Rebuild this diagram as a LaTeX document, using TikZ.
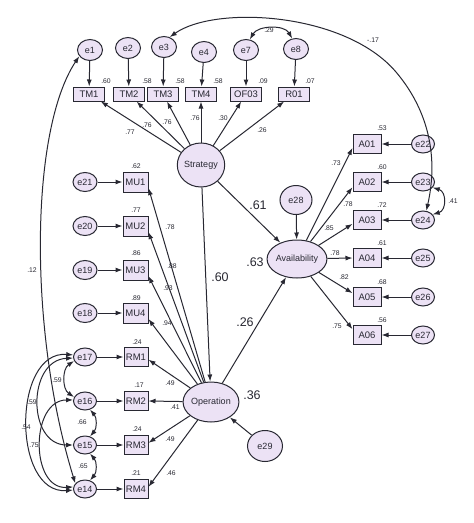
\documentclass[tikz,border=0pt]{standalone}
\usepackage{fontspec}
\setmainfont{Liberation Sans}
\usetikzlibrary{shapes.geometric,arrows.meta}
\definecolor{lav}{RGB}{236,226,245}
\definecolor{ln}{RGB}{40,40,50}
\begin{document}
\begin{tikzpicture}[x=1pt,y=-1pt,
  lat/.style={ellipse, draw=ln, fill=lav, line width=1pt, inner sep=0pt, text=ln, font=\fontsize{9}{10}\selectfont},
  err/.style={lat, minimum width=24pt, minimum height=20pt},
  obs/.style={rectangle, draw=ln, fill=lav, line width=1pt, inner sep=0pt, text=ln, font=\fontsize{9.5}{10}\selectfont},
  tmbox/.style={obs, minimum width=31pt, minimum height=14pt},
  mubox/.style={obs, minimum width=25pt, minimum height=20pt},
  abox/.style={obs, minimum width=28pt, minimum height=19pt},
  ld/.style={font=\fontsize{6.8}{7}\selectfont, inner sep=0pt, text=ln},
  big/.style={font=\fontsize{12.5}{14}\selectfont, inner sep=0pt, text=ln},
  arr/.style={draw=ln, line width=1pt, -{Latex[length=7pt,width=5pt]}},
  cov/.style={draw=ln, line width=1pt, {Latex[length=7pt,width=5pt]}-{Latex[length=7pt,width=5pt]}}
]
\useasboundingbox (0,0) rectangle (474,523);
\fill[white] (0,0) rectangle (474,523);

% top errors and indicators
\node[err, minimum width=25pt, minimum height=21pt] (e1) at (90,50) {e1};
\node[err, minimum width=25pt, minimum height=21pt] (e2) at (128,48) {e2};
\node[err, minimum width=25pt, minimum height=21pt] (e3) at (164,47) {e3};
\node[err, minimum width=25pt, minimum height=21pt] (e4) at (204,52) {e4};
\node[err, minimum width=25pt, minimum height=21pt] (e7) at (246,50) {e7};
\node[err, minimum width=25pt, minimum height=21pt] (e8) at (296,49) {e8};
\node[tmbox] (TM1) at (89,94) {TM1};
\node[tmbox] (TM2) at (129,94) {TM2};
\node[tmbox] (TM3) at (163,94) {TM3};
\node[tmbox] (TM4) at (201,94) {TM4};
\node[tmbox] (OF03) at (246,94) {OF03};
\node[tmbox] (R01) at (294,94) {R01};
\foreach \a/\b in {e1/TM1,e2/TM2,e3/TM3,e4/TM4,e7/OF03,e8/R01} \draw[arr] (\a) -- (\b);
\node[ld] at (106,81) {.60};
\node[ld] at (147,81) {.58};
\node[ld] at (180,81) {.58};
\node[ld] at (218,81) {.58};
\node[ld] at (263,81) {.09};
\node[ld] at (310,81) {.07};

% latent variables
\node[lat, minimum width=41pt, minimum height=44pt] (S) at (201,165) {Strategy};
\node[lat, minimum width=51pt, minimum height=40pt] (O) at (211,402) {Operation};
\node[lat, minimum width=56pt, minimum height=38pt] (Av) at (297,259) {Availability};
\node[lat, minimum width=32pt, minimum height=29pt] (e28) at (296,200) {e28};
\node[lat, minimum width=35pt, minimum height=31pt] (e29) at (265,446) {e29};

\foreach \b in {TM1,TM2,TM3,TM4,OF03,R01} \draw[arr] (S) -- (\b);
\node[ld] at (130,132) {.77};
\node[ld] at (147,125) {.76};
\node[ld] at (167,122) {.76};
\node[ld] at (195,118) {.76};
\node[ld] at (223,118) {.30};
\node[ld] at (262,130) {.26};

% MU block
\foreach \i/\e/\y in {1/21/182,2/20/226,3/19/270,4/18/313}{
  \node[err, minimum width=24pt, minimum height=19pt] (e\e) at (85,\y) {e\e};
  \node[mubox] (MU\i) at (135.5,\y) {MU\i};
  \draw[arr] (e\e) -- (MU\i);
  \draw[arr] (O) -- (MU\i.-25);
}
\node[ld] at (136,166) {.62};
\node[ld] at (136,210) {.77};
\node[ld] at (136,253) {.86};
\node[ld] at (136,298) {.89};
\node[ld] at (170,227) {.78};
\node[ld] at (172,266) {.88};
\node[ld] at (168,288) {.93};
\node[ld] at (167,323) {.94};

% RM block
\foreach \i/\e/\y/\an in {1/17/357/-12,2/16/401/0,3/15/445/10,4/14/489/10}{
  \node[err, minimum width=23pt, minimum height=18pt] (e\e) at (85,\y) {e\e};
  \node[obs, minimum width=24pt, minimum height=19pt] (RM\i) at (136,\y) {RM\i};
  \draw[arr] (e\e) -- (RM\i);
  \draw[arr] (O) -- (RM\i.\an);
}
\node[ld] at (137,342) {.24};
\node[ld] at (139,385) {.17};
\node[ld] at (137,429) {.24};
\node[ld] at (136,473) {.21};
\node[ld] at (170,383) {.49};
\node[ld] at (175,407) {.41};
\node[ld] at (170,439) {.49};
\node[ld] at (171,473) {.46};

% A block
\foreach \i/\e/\y/\an in {1/22/144/195,2/23/182/200,3/24/220/195,4/25/258/180,5/26/297/165,6/27/335/158}{
  \node[abox] (A0\i) at (367,\y) {A0\i};
  \node[err, minimum width=23pt, minimum height=18pt] (e\e) at (423,\y) {e\e};
  \draw[arr] (e\e) -- (A0\i);
  \draw[arr] (Av) -- (A0\i.\an);
}
\node[ld] at (382,128) {.53};
\node[ld] at (382,167) {.60};
\node[ld] at (382,205) {.72};
\node[ld] at (382,243) {.61};
\node[ld] at (382,282) {.68};
\node[ld] at (382,320) {.56};
\node[ld] at (336,163) {.73};
\node[ld] at (348,204) {.78};
\node[ld] at (329,228) {.85};
\node[ld] at (335,253) {.78};
\node[ld] at (344,277) {.82};
\node[ld] at (337,326) {.75};

% structural paths
\draw[arr] (S) -- (O);
\draw[arr] (S) -- (Av);
\draw[arr] (O) -- (Av);
\draw[arr] (e28) -- (Av);
\draw[arr] (e29) -- (O);
\node[big] at (258,205) {.61};
\node[big] at (255,262) {.63};
\node[big] at (245,322) {.26};
\node[big] at (220,277) {.60};
\node[big] at (252,395) {.36};

% covariances
\draw[cov] (e7.70) .. controls +(8,-14) and +(-8,-14) .. (e8.110);
\node[ld] at (269,30) {.29};
\draw[cov] (e23.-30) .. controls +(14,4) and +(14,-4) .. (e24.30);
\node[ld] at (453,201) {.41};
\coordinate (k17) at (396,72);
\draw[cov] (e3.60) .. controls (215,5) and (345,12) .. (k17) .. controls (424,105) and (440,150) .. (e24.70);
\node[ld] at (373,40) {-.17};
\draw[cov] (e1.210) .. controls (30,130) and (28,330) .. (e14.150);
\node[ld] at (32,270) {.12};

\draw[cov] (e17.200) .. controls +(-12,8) and +(-12,-8) .. (e16.160);
\node[ld] at (57,380) {.59};
\draw[cov] (e16.-60) .. controls +(7,8) and +(7,-8) .. (e15.60);
\node[ld] at (82,422) {.66};
\draw[cov] (e15.-60) .. controls +(7,8) and +(7,-8) .. (e14.60);
\node[ld] at (83,466) {.65};
\draw[cov] (e17.185) .. controls (27,360) and (27,445) .. (e15.180);
\node[ld] at (32,402) {.59};
\draw[cov] (e17.170) .. controls (12,350) and (12,495) .. (e14.185);
\node[ld] at (26,427) {.54};
\draw[cov] (e16.175) .. controls (30,400) and (30,490) .. (e14.170);
\node[ld] at (34,445) {.75};
\end{tikzpicture}
\end{document}
